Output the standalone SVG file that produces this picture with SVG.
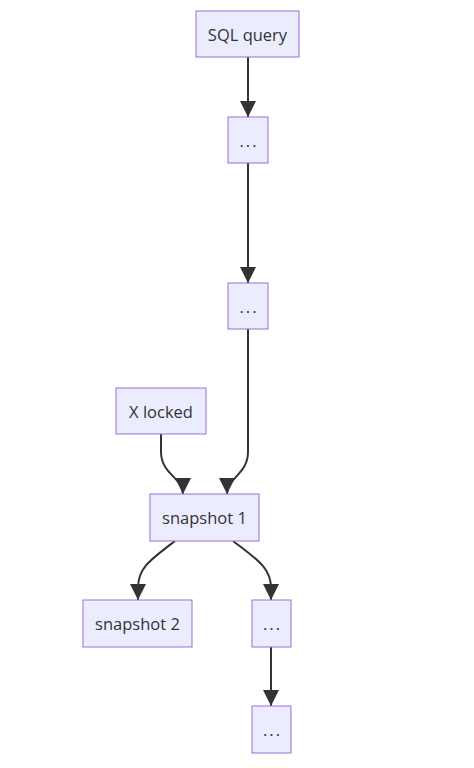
<svg xmlns="http://www.w3.org/2000/svg" width="474" height="768" viewBox="0 0 474 768">
<style>
.node rect{fill:#ECECFF;stroke:#9370DB;stroke-width:1}
.node text{font-family:"Open Sans","Liberation Sans",Arial,sans-serif;font-size:16.5px;fill:#333333;text-anchor:middle;dominant-baseline:central}
.node text.dots{letter-spacing:2px}
.edge{fill:none;stroke:#333333;stroke-width:2;marker-end:url(#arrow)}
</style>
<defs>
<marker id="arrow" viewBox="0 0 10 10" refX="10" refY="5" markerUnits="userSpaceOnUse" markerWidth="16" markerHeight="16" orient="auto">
<path d="M0,0 L10,5 L0,10 z" fill="#333333"/>
</marker>
</defs>
<rect width="474" height="768" fill="#ffffff"/>
<g id="connectors">
<path class="edge" d="M248,57 L248,117"/>
<path class="edge" d="M248,163 L248,283"/>
<path class="edge" d="M248,329 L248,452 C248,474 227,478 227,494"/>
<path class="edge" d="M161,434 L161,452 C161,474 183,478 183,494"/>
<path class="edge" d="M175,541 C150,560 138,568 138,588 L138,600"/>
<path class="edge" d="M233,541 C258,560 271,568 271,588 L271,600"/>
<path class="edge" d="M271,647 L271,706"/>
</g>
<g id="sql" class="node"><rect x="196" y="11" width="103" height="46"/><text x="247.5" y="34">SQL query</text></g>
<g id="dots1" class="node"><rect x="228" y="117" width="40" height="46"/><text class="dots" x="249" y="140">...</text></g>
<g id="dots2" class="node"><rect x="228" y="283" width="40" height="46"/><text class="dots" x="249" y="306">...</text></g>
<g id="xlocked" class="node"><rect x="116" y="388" width="90" height="46"/><text x="161" y="411">X locked</text></g>
<g id="snap1" class="node"><rect x="150" y="494" width="109" height="47"/><text x="204.5" y="517.5">snapshot 1</text></g>
<g id="snap2" class="node"><rect x="83" y="600" width="109" height="47"/><text x="137.5" y="623.5">snapshot 2</text></g>
<g id="dots3" class="node"><rect x="252" y="600" width="39" height="47"/><text class="dots" x="272.5" y="623.5">...</text></g>
<g id="dots4" class="node"><rect x="252" y="706" width="39" height="47"/><text class="dots" x="272.5" y="729.5">...</text></g>
</svg>
